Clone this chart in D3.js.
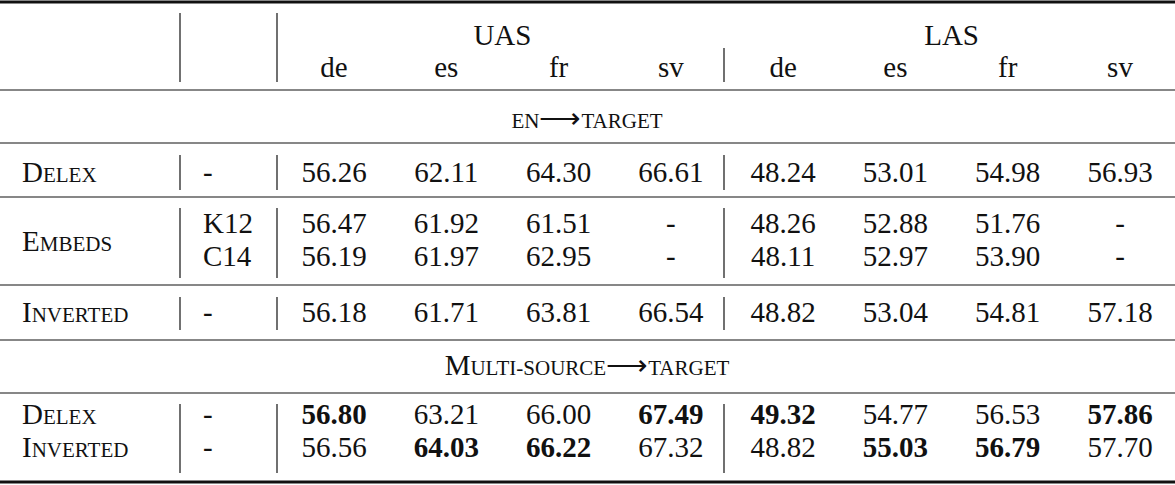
<!DOCTYPE html>
<html><head><meta charset="utf-8">
<script src="https://cdn.jsdelivr.net/npm/d3@7"></script>
<style>body{margin:0;background:#fff}text{font-family:"Liberation Serif","Times New Roman",serif;font-size:29px;fill:#111}</style>
</head><body><svg id="t" width="1175" height="485"></svg>
<script>
// table content
const langs = ['de', 'es', 'fr', 'sv'];
const groups = ['UAS', 'LAS'];
const sections = ['en\u27F6target', 'Multi-source\u27F6target'];
const methods = ['Delex', 'Embeds', 'Embeds', 'Inverted', 'Delex', 'Inverted'];
const variants = ['-', 'K12', 'C14', '-', '-', '-'];
const scores = [
  ['56.26','62.11','64.30','66.61','48.24','53.01','54.98','56.93'],
  ['56.47','61.92','61.51','-','48.26','52.88','51.76','-'],
  ['56.19','61.97','62.95','-','48.11','52.97','53.90','-'],
  ['56.18','61.71','63.81','66.54','48.82','53.04','54.81','57.18'],
  ['56.80','63.21','66.00','67.49','49.32','54.77','56.53','57.86'],
  ['56.56','64.03','66.22','67.32','48.82','55.03','56.79','57.70']
];
const bold = [[],[],[],[],[0,3,4,7],[1,2,5,6]];

const svg = d3.select('#t');
const colX = d3.scalePoint().domain(d3.range(8)).range([334, 1120]);
const rowY = [182, 233, 266, 322, 424, 457];

// manual small caps: uppercase letters full size, lowercase as smaller capitals
function smallCaps(t, s) {
  let run = '', big = null;
  const flush = () => { if (run) t.append('tspan').style('font-size', big ? '29px' : '21px').text(big ? run : run.toUpperCase()); run = ''; };
  for (const ch of s) {
    const isBig = !(ch >= 'a' && ch <= 'z') && ch !== '-';
    if (big !== null && isBig !== big) flush();
    big = isBig; run += ch;
  }
  flush();
}

const hline = (y, w) => svg.append('line').attr('x1', 0).attr('x2', 1175)
  .attr('y1', y).attr('y2', y).attr('stroke', '#111').attr('stroke-width', w);
[[2, 3], [482, 3], [90, 1.2], [143, 1.2], [197, 1.2], [285, 1.2], [340, 1.2], [393, 1.2]]
  .forEach(([y, w]) => hline(y, w));

// vertical bar segments
const segs = [[13, 82], [155, 190], [208, 278], [297, 330], [404, 473]];
segs.forEach(([a, b], i) => {
  [180, 277, 724].forEach(x => {
    svg.append('line').attr('x1', x).attr('x2', x).attr('y1', i === 0 && x === 724 ? 48 : a).attr('y2', b)
      .attr('stroke', '#111').attr('stroke-width', 1.2);
  });
});

// header
groups.forEach((g, i) => svg.append('text').attr('x', (colX(i * 4) + colX(i * 4 + 3)) / 2).attr('y', 45)
  .attr('text-anchor', 'middle').text(g));
d3.range(8).forEach(i => svg.append('text').attr('x', colX(i)).attr('y', 77)
  .attr('text-anchor', 'middle').text(langs[i % 4]));

// section titles
sections.forEach((s, i) => smallCaps(svg.append('text').attr('x', 587).attr('y', [128, 375][i])
  .attr('text-anchor', 'middle'), s));

// rows
methods.forEach((m, r) => {
  if (r !== 2) smallCaps(svg.append('text').attr('x', 22).attr('y', r === 1 ? 251 : rowY[r]), m);
  svg.append('text').attr('x', 203).attr('y', rowY[r]).text(variants[r]);
  scores[r].forEach((v, c) => svg.append('text').attr('x', colX(c)).attr('y', rowY[r])
    .attr('text-anchor', 'middle').style('font-weight', bold[r].includes(c) ? 'bold' : 'normal').text(v));
});
</script></body></html>
